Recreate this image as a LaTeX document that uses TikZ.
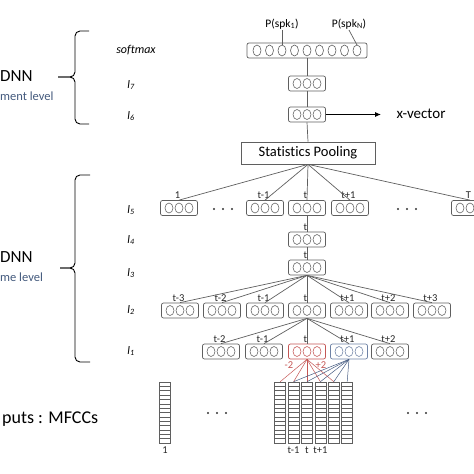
\documentclass[tikz,border=0pt]{standalone}
\usepackage{fontspec}
\setmainfont{Carlito}[Ligatures={NoCommon}]
\usepackage{tikz}
\usetikzlibrary{positioning,calc,arrows.meta}

\definecolor{linegray}{RGB}{95,95,95}
\definecolor{ctxred}{RGB}{196,86,84}
\definecolor{ctxblue}{RGB}{70,92,130}
\definecolor{boxblue}{RGB}{110,130,165}
\definecolor{lvlblue}{RGB}{68,90,125}

\tikzset{
  hid/.style={draw=linegray, rounded corners=2pt, minimum width=37pt, minimum height=15pt, inner sep=0pt, line width=0.7pt},
  tlab/.style={font=\fontsize{10.5}{10.5}\selectfont, inner sep=1pt, xshift=-1.5pt, text=black!85},
  lyr/.style={font=\fontsize{11.5}{12}\selectfont\itshape, anchor=base},
  conn/.style={draw=linegray, line width=0.7pt},
  mfcc/.style={draw=linegray, minimum width=11pt, minimum height=61pt, inner sep=0pt, line width=0.6pt},
}

% box of three units, with its frame label
\newcommand{\hidbox}[5]{%
  \node[hid, draw=#4, label={[tlab]above:#5}] (#1) at (#2,#3) {};
  \foreach \dx in {-10,0,10} \draw[#4, line width=0.6pt] (#2+\dx,#3) ellipse (4 and 5);
}

% one MFCC frame
\newcommand{\mfcccol}[3]{%
  \node[mfcc, label={[tlab,xshift=1.5pt,yshift=-2pt]below:#3}] (#1) at (#2,412.5) {};
  \foreach \k in {1,...,13} \draw[linegray, line width=0.5pt] (#2-5.5,382+\k*61/14) -- (#2+5.5,382+\k*61/14);
}

\begin{document}
\begin{tikzpicture}[x=1pt, y=-1pt]
    \clip (0,0) rectangle (474,474);

    % Left side texts
    \node[anchor=base west, font=\fontsize{17}{17}\selectfont, inner sep=0pt] (segnet) at (0,81) {DNN};
    \node[anchor=base west, font=\fontsize{12.5}{13}\selectfont, text=lvlblue, inner sep=0pt] (seglvl) at (0,100) {ment level};
    \node[anchor=base west, font=\fontsize{17}{17}\selectfont, inner sep=0pt] (frmnet) at (0,262) {DNN};
    \node[anchor=base west, font=\fontsize{12.5}{13}\selectfont, text=lvlblue, inner sep=0pt] (frmlvl) at (0,281) {me level};
    \node[anchor=base west, font=\fontsize{18}{18}\selectfont, inner sep=0pt] (inputs) at (2,423) {puts : MFCCs};

    % Braces
    \draw[line width=0.9pt, rounded corners=5pt] (89,31) -- (75,31) -- (75,77) -- (58,77);
    \draw[line width=0.9pt, rounded corners=5pt] (89,124) -- (75,124) -- (75,77) -- (58,77);
    \draw[line width=0.9pt, rounded corners=5pt] (90,175) -- (75,175) -- (75,268) -- (60,268);
    \draw[line width=0.9pt, rounded corners=5pt] (90,362) -- (75,362) -- (75,268) -- (60,268);

    % Layer names
    \node[lyr, font=\fontsize{12}{12}\selectfont\itshape] (nsoft) at (136,53) {softmax};
    \node[lyr] (n7) at (131,88) {l\textsubscript{7}};
    \node[lyr] (n6) at (131,119) {l\textsubscript{6}};
    \node[lyr] (n5) at (131,213) {l\textsubscript{5}};
    \node[lyr] (n4) at (131,243) {l\textsubscript{4}};
    \node[lyr] (n3) at (131,276) {l\textsubscript{3}};
    \node[lyr] (n2) at (131,313) {l\textsubscript{2}};
    \node[lyr] (n1) at (131,354) {l\textsubscript{1}};

    % Softmax output
    \node[hid, minimum width=120pt] (smax) at (307,50.5) {};
    \foreach \i in {-4,...,4} \draw[linegray, line width=0.6pt] (307+12.5*\i,50.5) ellipse (4 and 5.5);
    \node[anchor=base, font=\fontsize{11.5}{12}\selectfont, inner sep=1pt] (p1) at (282,27) {P(spk\textsubscript{1})};
    \node[anchor=base, font=\fontsize{11.5}{12}\selectfont, inner sep=1pt] (pN) at (349,27) {P(spk\textsubscript{N})};
    \coordinate (o1) at (282,45);
    \coordinate (oN) at (357,45);
    \draw[conn] (p1.south) -- (o1);
    \draw[conn] (pN.south) -- (oN);

    % Segment layers
    \hidbox{l7}{307}{83.5}{linegray}{}
    \hidbox{l6}{307}{114.5}{linegray}{}
    \node[draw=linegray, line width=0.7pt, minimum width=134pt, minimum height=22pt, font=\fontsize{14.5}{15}\selectfont] (stats) at (308,153) {Statistics Pooling};
    \node[anchor=base, font=\fontsize{15}{15}\selectfont] (xv) at (421,118) {x-vector};
    \coordinate (xvend) at (381,114.5);
    \draw[line width=0.9pt, -{Latex[length=6pt,width=5pt]}] (l6.east) -- (xvend);
    \draw[conn] (smax.south) -- (l7.north);
    \draw[conn] (l7.south) -- (l6.north);
    \draw[conn] (l6.south) -- (stats.north);

    % Frame layers
    \hidbox{f1}{179}{208}{linegray}{1}
    \hidbox{ftm1}{265}{208}{linegray}{t-1}
    \hidbox{ft}{307}{208}{linegray}{t}
    \hidbox{ftp1}{350}{208}{linegray}{t+1}
    \hidbox{fT}{470}{208}{linegray}{T}
    \foreach \dx in {-9,0,9} \fill[black!80] (223+\dx,209) circle (1.2);
    \foreach \dx in {-9,0,9} \fill[black!80] (407+\dx,209) circle (1.2);
    \foreach \b in {f1,ftm1,ft,ftp1,fT} \draw[conn] (stats.south) -- (\b.north);

    \hidbox{g4}{307}{239.5}{linegray}{t}
    \hidbox{g3}{307}{267.5}{linegray}{t}
    \draw[conn] (ft.south) -- (g4.north);
    \draw[conn] (g4.south) -- (g3.north);

    \hidbox{htm3}{180}{310.5}{linegray}{t-3}
    \hidbox{htm2}{222}{310.5}{linegray}{t-2}
    \hidbox{htm1}{265}{310.5}{linegray}{t-1}
    \hidbox{ht}{307}{310.5}{linegray}{t}
    \hidbox{htp1}{349}{310.5}{linegray}{t+1}
    \hidbox{htp2}{390}{310.5}{linegray}{t+2}
    \hidbox{htp3}{432}{310.5}{linegray}{t+3}
    \foreach \b in {htm3,htm2,htm1,ht,htp1,htp2,htp3} \draw[conn] (g3.south) -- (\b.north);

    \hidbox{ktm2}{221}{351.5}{linegray}{t-2}
    \hidbox{ktm1}{264}{351.5}{linegray}{t-1}
    \hidbox{kt}{307}{351.5}{ctxred}{t}
    \hidbox{ktp1}{349}{351.5}{boxblue}{t+1}
    \hidbox{ktp2}{390}{351.5}{linegray}{t+2}
    \foreach \b in {ktm2,ktm1,kt,ktp1,ktp2} \draw[conn] (ht.south) -- (\b.north);

    % Input frames
    \mfcccol{m1}{165}{1}
    \mfcccol{c1}{280.2}{}
    \mfcccol{c2}{293.6}{t-1}
    \mfcccol{c3}{307}{t}
    \mfcccol{c4}{320.4}{t+1}
    \mfcccol{c5}{333.8}{}
    \mfcccol{c6}{347.2}{}
    \foreach \dx in {-9,0,9} \fill[black!80] (217+\dx,413) circle (1.2);
    \foreach \dx in {-9,0,9} \fill[black!80] (417+\dx,413) circle (1.2);

    % Context of l1
    \foreach \col in {c1,c2,c3,c4,c5} \draw[ctxred, line width=0.5pt] (kt.south) -- (\col.north);
    \foreach \col in {c2,c3,c4,c5,c6} \draw[ctxblue, line width=0.5pt] (ktp1.south) -- (\col.north);
    \node[font=\fontsize{10.5}{10.5}\selectfont, text=ctxred] (cm2) at (289,365) {-2};
    \node[font=\fontsize{10.5}{10.5}\selectfont, text=ctxred] (cp2) at (321,365) {+2};
\end{tikzpicture}
\end{document}
